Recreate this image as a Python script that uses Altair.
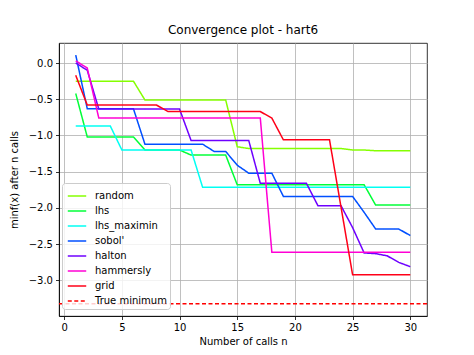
import altair as alt
import pandas as pd

calls = list(range(1, 31))
names = ["random", "lhs", "lhs_maximin", "sobol'", "halton", "hammersly", "grid"]
colors = ["#85ff00", "#00ff37", "#00fff3", "#004fff", "#6e00ff", "#ff00d4", "#ff0018"]

random_v = [-0.25, -0.25, -0.25, -0.25, -0.25, -0.25, -0.51, -0.51, -0.51, -0.51,
            -0.51, -0.51, -0.51, -0.51, -1.155, -1.18, -1.18, -1.18, -1.18, -1.18,
            -1.18, -1.18, -1.18, -1.18, -1.20, -1.20, -1.21, -1.21, -1.21, -1.21]
lhs_v = [-0.42, -1.02, -1.02, -1.02, -1.02, -1.02, -1.20, -1.20, -1.20, -1.20,
         -1.27, -1.27, -1.27, -1.27, -1.68, -1.68, -1.68, -1.68, -1.68, -1.68,
         -1.68, -1.68, -1.68, -1.68, -1.68, -1.68, -1.96, -1.96, -1.96, -1.96]
lhs_maximin_v = [-0.87, -0.87, -0.87, -0.87, -1.20, -1.20, -1.20, -1.20, -1.20, -1.20,
                 -1.20, -1.715, -1.715, -1.715, -1.715, -1.715, -1.715, -1.715, -1.715, -1.715,
                 -1.715, -1.715, -1.715, -1.715, -1.715, -1.715, -1.715, -1.715, -1.715, -1.715]
sobol_v = [0.11, -0.63, -0.63, -0.63, -0.63, -0.63, -1.12, -1.12, -1.12, -1.12,
           -1.12, -1.12, -1.22, -1.22, -1.41, -1.52, -1.52, -1.52, -1.84, -1.84,
           -1.84, -1.84, -1.84, -1.84, -1.84, -2.06, -2.29, -2.29, -2.29, -2.38]
halton_v = [0.0, -0.10, -0.635, -0.635, -0.635, -0.635, -0.635, -0.635, -0.635, -0.635,
            -1.07, -1.07, -1.07, -1.07, -1.07, -1.07, -1.66, -1.66, -1.66, -1.66,
            -1.66, -1.97, -1.97, -1.97, -2.27, -2.62, -2.63, -2.66, -2.75, -2.81]
hammersly_v = [0.03, -0.07, -0.76, -0.76, -0.76, -0.76, -0.76, -0.76, -0.76, -0.76,
               -0.76, -0.76, -0.76, -0.76, -0.76, -0.76, -0.76, -2.61, -2.61, -2.61,
               -2.61, -2.61, -2.61, -2.61, -2.61, -2.61, -2.61, -2.61, -2.61, -2.61]
grid_v = [-0.17, -0.58, -0.58, -0.58, -0.58, -0.58, -0.58, -0.58, -0.67, -0.67,
          -0.67, -0.67, -0.67, -0.67, -0.67, -0.67, -0.67, -0.76, -1.06, -1.06,
          -1.06, -1.06, -1.06, -1.99, -2.92, -2.92, -2.92, -2.92, -2.92, -2.92]
true_minimum = -3.32237

series_vals = [random_v, lhs_v, lhs_maximin_v, sobol_v, halton_v, hammersly_v, grid_v]
rows = []
for k, (name, vals) in enumerate(zip(names, series_vals)):
    for c, v in zip(calls, vals):
        rows.append({"series": name, "calls": c, "value": v, "order": k})
df = pd.DataFrame(rows)
df_min = pd.DataFrame({"series": ["True minimum"], "value": [true_minimum]})

domain = names + ["True minimum"]
color_scale = alt.Scale(domain=domain, range=colors + ["#ff0000"])
dash_scale = alt.Scale(domain=domain, range=[[1, 0]] * 7 + [[4, 2.5]])
width_scale = alt.Scale(domain=domain, range=[1.5] * 7 + [0.8])

legend = alt.Legend(
    title=None, orient="none", legendX=3, legendY=140,
    symbolType="stroke", symbolSize=340, labelFontSize=10, labelFont="DejaVu Sans",
    labelColor="black", fillColor="rgba(255,255,255,0.8)", strokeColor="#cccccc",
    padding=3, cornerRadius=3, rowPadding=-0.5, labelOffset=8, symbolOffset=2,
)

x_enc = alt.X("calls:Q", scale=alt.Scale(domain=[-0.45, 31.45], nice=False, zero=False),
              axis=alt.Axis(values=[0, 5, 10, 15, 20, 25, 30], title="Number of calls n",
                            format="d"))
y_enc = alt.Y("value:Q", scale=alt.Scale(domain=[-3.49, 0.276], nice=False, zero=False),
              axis=alt.Axis(values=[0.0, -0.5, -1.0, -1.5, -2.0, -2.5, -3.0],
                            format=".1f", title="minf(x) after n calls"))

lines = alt.Chart(df).mark_line(clip=True).encode(
    x=x_enc,
    y=y_enc,
    color=alt.Color("series:N", scale=color_scale, legend=legend),
    strokeDash=alt.StrokeDash("series:N", scale=dash_scale, legend=legend),
    strokeWidth=alt.StrokeWidth("series:N", scale=width_scale, legend=legend),
    order=alt.Order("calls:Q"),
)

rule = alt.Chart(df_min).mark_rule().encode(
    y=alt.Y("value:Q"),
    color=alt.Color("series:N", scale=color_scale, legend=legend),
    strokeDash=alt.StrokeDash("series:N", scale=dash_scale, legend=legend),
    strokeWidth=alt.StrokeWidth("series:N", scale=width_scale, legend=legend),
)

chart = alt.layer(lines, rule).properties(
    width=368, height=273,
    autosize=alt.AutoSizeParams(type="none"),
    padding={"left": 51, "top": 35, "right": 39, "bottom": 31},
    title=alt.TitleParams("Convergence plot - hart6", fontSize=12, fontWeight="normal",
                          font="DejaVu Sans", color="black", offset=6, anchor="middle"),
).configure_view(stroke="black", strokeWidth=0.8).configure_axis(
    grid=True, gridColor="#b0b0b0", gridWidth=0.8, domainColor="black", domainWidth=0.8,
    tickColor="black", tickWidth=0.8, tickSize=3.5, labelFont="DejaVu Sans", labelFontSize=10,
    labelColor="black", titleFont="DejaVu Sans", titleFontSize=10, titleFontWeight="normal",
    titleColor="black", labelPadding=3,
).configure_axisY(titlePadding=9).configure_axisX(titlePadding=4)

chart.save("out.html", embed_options={"renderer": "svg", "actions": False})
